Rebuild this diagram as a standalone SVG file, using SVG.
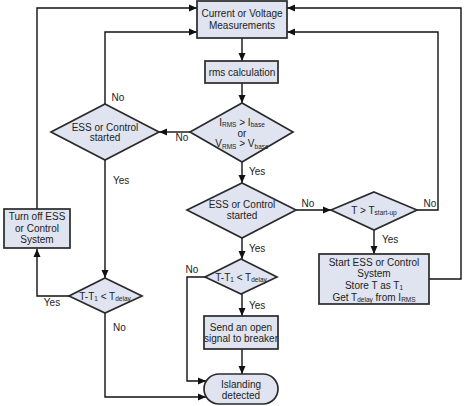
<svg xmlns="http://www.w3.org/2000/svg" width="474" height="406" viewBox="0 0 474 406">
<defs>
<marker id="ah" markerWidth="8" markerHeight="8" refX="8" refY="4" orient="auto" markerUnits="userSpaceOnUse">
<path d="M0,0.5 L8,4 L0,7.5 z" fill="#111"/>
</marker>
<style>
.n{fill:#dfe4f0;stroke:#2a2a2a;stroke-width:1.7}
.c{fill:none;stroke:#111;stroke-width:1.4;marker-end:url(#ah)}
text{font-family:"Liberation Sans",Arial,sans-serif;font-size:10px;fill:#222}
.m{text-anchor:middle}
.s{font-size:6.5px}
</style>
</defs>
<rect width="474" height="406" fill="#fff"/>
<g id="connectors">
<path class="c" d="M242,38 V61"/>
<path class="c" d="M242,83 V103"/>
<path class="c" d="M242,162 V183"/>
<path class="c" d="M190,132 H159"/>
<path class="c" d="M105,104 V32 H197"/>
<path class="c" d="M105,160 V278"/>
<path class="c" d="M69,296 H37 V249"/>
<path class="c" d="M37,209 V8 H197"/>
<path class="c" d="M105,313 V397 H206"/>
<path class="c" d="M242,238 V259"/>
<path class="c" d="M205,277 H187 V381 H206"/>
<path class="c" d="M242,294 V316"/>
<path class="c" d="M242,349 V374"/>
<path class="c" d="M296,210 H331"/>
<path class="c" d="M417,210 H438 V32 H287"/>
<path class="c" d="M374,230 V254"/>
<path class="c" d="M429,279 H461 V8 H287"/>
</g>
<g id="labels">
<text class="m" x="118" y="100.5">No</text>
<text class="m" x="182" y="140.5">No</text>
<text x="113" y="183.5">Yes</text>
<text class="m" x="52" y="305.5">Yes</text>
<text x="113" y="330.5">No</text>
<text x="249" y="174.5">Yes</text>
<text x="249" y="251.5">Yes</text>
<text class="m" x="192" y="272.5">No</text>
<text x="249" y="308.5">Yes</text>
<text class="m" x="308" y="206.5">No</text>
<text class="m" x="430" y="206.5">No</text>
<text x="382" y="242.5">Yes</text>
</g>
<g id="measure">
<rect class="n" x="197" y="1" width="90" height="37"/>
<text class="m" x="242" y="17">Current or Voltage</text>
<text class="m" x="242" y="28.5">Measurements</text>
</g>
<g id="rms">
<rect class="n" x="205" y="61" width="73" height="22"/>
<text class="m" x="242" y="75.5">rms calculation</text>
</g>
<g id="threshold">
<polygon class="n" points="242,103 293,132 242,162 190,132"/>
<text class="m" x="242" y="125.5">I<tspan class="s" dy="1.5">RMS</tspan><tspan dy="-1.5"> &gt; I</tspan><tspan class="s" dy="1.5">base</tspan></text>
<text class="m" x="242" y="136.5">or</text>
<text class="m" x="242" y="147">V<tspan class="s" dy="1.5">RMS</tspan><tspan dy="-1.5"> &gt; V</tspan><tspan class="s" dy="1.5">base</tspan></text>
</g>
<g id="ess-left">
<polygon class="n" points="105,104 159,132 105,160 51,132"/>
<text class="m" x="105" y="130.5">ESS or Control</text>
<text class="m" x="105" y="141">started</text>
</g>
<g id="turnoff">
<rect class="n" x="4" y="209" width="66" height="39"/>
<text class="m" x="37" y="220">Turn off ESS</text>
<text class="m" x="37" y="231.5">or Control</text>
<text class="m" x="37" y="243">System</text>
</g>
<g id="delay-left">
<polygon class="n" points="105,278 142,296 105,313 69,296"/>
<text class="m" x="105" y="299.5">T-T<tspan class="s" dy="1.5">1</tspan><tspan dy="-1.5"> &lt; T</tspan><tspan class="s" dy="1.5">delay</tspan></text>
</g>
<g id="ess-center">
<polygon class="n" points="242,183 296,210 242,238 187,210"/>
<text class="m" x="242" y="207.5">ESS or Control</text>
<text class="m" x="242" y="218.5">started</text>
</g>
<g id="delay-center">
<polygon class="n" points="241,259 277,277 241,294 205,277"/>
<text class="m" x="241" y="280.5">T-T<tspan class="s" dy="1.5">1</tspan><tspan dy="-1.5"> &lt; T</tspan><tspan class="s" dy="1.5">delay</tspan></text>
</g>
<g id="send">
<rect class="n" x="204" y="316" width="74" height="33"/>
<text class="m" x="241" y="330.5">Send an open</text>
<text class="m" x="241" y="341.5">signal to breaker</text>
</g>
<g id="islanding">
<rect class="n" x="204" y="374" width="74" height="30" rx="15" ry="15"/>
<text class="m" x="241" y="387.5">Islanding</text>
<text class="m" x="241" y="398.5">detected</text>
</g>
<g id="startup">
<polygon class="n" points="374,192 417,210 374,230 331,210"/>
<text class="m" x="374" y="213.5">T &gt; T<tspan class="s" dy="1.5">start-up</tspan></text>
</g>
<g id="start">
<rect class="n" x="319" y="254" width="110" height="50"/>
<text class="m" x="374" y="265.5">Start ESS or Control</text>
<text class="m" x="374" y="276.5">System</text>
<text class="m" x="374" y="288.5">Store T as T<tspan class="s" dy="1.5">1</tspan></text>
<text class="m" x="374" y="300.5">Get T<tspan class="s" dy="1.5">delay</tspan><tspan dy="-1.5"> from I</tspan><tspan class="s" dy="1.5">RMS</tspan></text>
</g>
</svg>
